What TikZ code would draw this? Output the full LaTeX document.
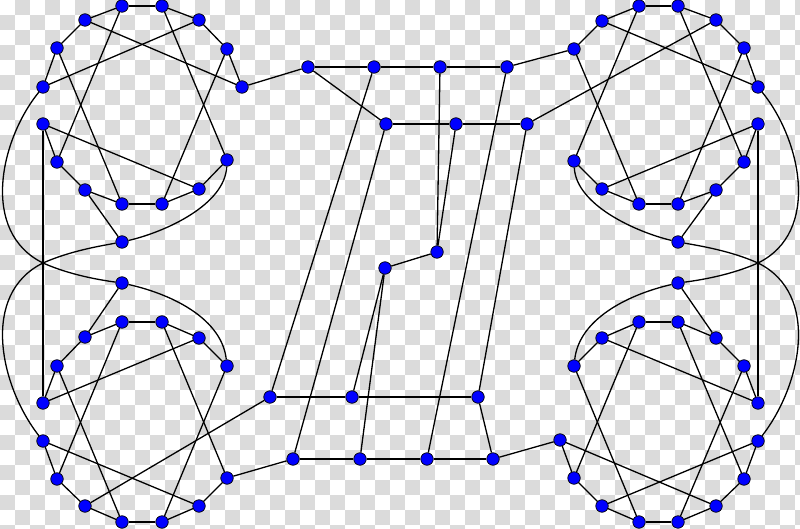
\documentclass[tikz,border=0pt]{standalone}
\begin{document}
\begin{tikzpicture}[x=1pt,y=-1pt,
  vtx/.style={circle,fill={rgb,255:red,0;green,0;blue,255},draw=black,line width=0.7pt,inner sep=0pt,minimum size=12.5pt},
  edge/.style={line width=1.3pt,black},
  checker/.style={fill={rgb,255:red,219;green,219;blue,219}}]
\useasboundingbox (0,0) rectangle (800,529);
\begin{scope}
\clip (0,0) rectangle (800,529);
\fill[white] (0,0) rectangle (800,529);
\foreach \c in {0,...,53}{\foreach \r in {0,...,35}{\pgfmathtruncatemacro\s{\c+\r}\ifodd\s\fill[checker] (\c*15,\r*15) rectangle ++(15,15);\fi}}
\end{scope}
% top-left
\node[vtx] (A1) at (122,6) {}; \node[vtx] (A2) at (162,6) {}; \node[vtx] (A3) at (199,20) {};
\node[vtx] (A4) at (227,49) {}; \node[vtx] (A5) at (242,87) {}; \node[vtx] (A6) at (85,20) {};
\node[vtx] (A7) at (57,48) {}; \node[vtx] (A8) at (43,87) {}; \node[vtx] (A9) at (43,124) {};
\node[vtx] (A10) at (57,162) {}; \node[vtx] (A11) at (85,190) {}; \node[vtx] (A12) at (122,204) {};
\node[vtx] (A13) at (162,204) {}; \node[vtx] (A14) at (199,189) {}; \node[vtx] (A15) at (227,160) {};
\node[vtx] (A16) at (122,242) {};
% top-right
\node[vtx] (C1) at (639,6) {}; \node[vtx] (C2) at (678,6) {}; \node[vtx] (C3) at (716,20) {};
\node[vtx] (C4) at (744,48) {}; \node[vtx] (C5) at (758,87) {}; \node[vtx] (C6) at (602,21) {};
\node[vtx] (C7) at (574,49) {}; \node[vtx] (C8) at (758,124) {}; \node[vtx] (C9) at (744,162) {};
\node[vtx] (C10) at (716,190) {}; \node[vtx] (C11) at (678,204) {}; \node[vtx] (C12) at (639,204) {};
\node[vtx] (C13) at (602,189) {}; \node[vtx] (C14) at (574,161) {}; \node[vtx] (C15) at (678,242) {};
% bottom-left
\node[vtx] (B1) at (122,283) {}; \node[vtx] (B2) at (122,322) {}; \node[vtx] (B3) at (162,322) {};
\node[vtx] (B4) at (199,338) {}; \node[vtx] (B5) at (227,366) {}; \node[vtx] (B6) at (85,337) {};
\node[vtx] (B7) at (57,366) {}; \node[vtx] (B8) at (43,403) {}; \node[vtx] (B9) at (43,441) {};
\node[vtx] (B10) at (57,479) {}; \node[vtx] (B11) at (85,506) {}; \node[vtx] (B12) at (122,522) {};
\node[vtx] (B13) at (162,522) {}; \node[vtx] (B14) at (199,506) {}; \node[vtx] (B15) at (227,478) {};
% bottom-right
\node[vtx] (D1) at (678,283) {}; \node[vtx] (D2) at (639,322) {}; \node[vtx] (D3) at (678,322) {};
\node[vtx] (D4) at (716,338) {}; \node[vtx] (D5) at (744,366) {}; \node[vtx] (D6) at (602,338) {};
\node[vtx] (D7) at (574,366) {}; \node[vtx] (D8) at (758,403) {}; \node[vtx] (D9) at (758,441) {};
\node[vtx] (D10) at (744,479) {}; \node[vtx] (D11) at (716,506) {}; \node[vtx] (D12) at (678,522) {};
\node[vtx] (D13) at (639,522) {}; \node[vtx] (D14) at (602,506) {}; \node[vtx] (D15) at (574,478) {};
\node[vtx] (D16) at (560,440) {};
% middle
\node[vtx] (M1) at (308,67) {}; \node[vtx] (M2) at (374,67) {}; \node[vtx] (M3) at (440,67) {};
\node[vtx] (M4) at (507,67) {}; \node[vtx] (M5) at (386,124) {}; \node[vtx] (M6) at (456,124) {};
\node[vtx] (M7) at (527,124) {}; \node[vtx] (M8) at (437,252) {}; \node[vtx] (M9) at (385,268) {};
\node[vtx] (N1) at (270,397) {}; \node[vtx] (N2) at (352,397) {}; \node[vtx] (N3) at (478,397) {};
\node[vtx] (P1) at (293,459) {}; \node[vtx] (P2) at (360,459) {}; \node[vtx] (P3) at (427,459) {};
\node[vtx] (P4) at (493,459) {};
\coordinate (XL) at (43,263);
\coordinate (XR) at (758,263);
% straight edges
\foreach \a/\b in {A1/A2,A2/A3,A3/A4,A4/A5,A6/A1,A7/A6,A8/A7,A1/A10,A2/A15,A6/A5,A3/A8,A7/A12,A4/A13,
  A9/A10,A9/A14,A10/A11,A11/A12,A12/A13,A13/A14,A14/A15,A11/A16,A5/M1,A9/B8,
  C1/C2,C2/C3,C3/C4,C4/C5,C6/C1,C7/C6,C6/C5,C3/M7,C1/C14,C7/C12,C2/C9,C4/C11,C8/C13,C8/C9,
  C14/C13,C13/C12,C12/C11,C11/C10,C10/C9,C10/C15,C7/M4,C8/D8,
  B1/B6,B6/B2,B2/B3,B3/B4,B4/B5,B6/B7,B7/B8,B8/B4,B7/B12,B2/B10,B3/B15,B5/B13,B9/B10,B9/B14,
  B10/B11,B11/B12,B12/B13,B13/B14,B14/B15,B11/N1,B15/P1,
  D1/D4,D6/D2,D2/D3,D3/D4,D4/D5,D6/D7,D6/D8,D5/D8,D7/D13,D2/D15,D3/D10,D5/D12,D9/D10,D9/D14,
  D16/D15,D16/D11,D16/P4,D15/D14,D14/D13,D13/D12,D12/D11,D11/D10,
  M1/M2,M2/M3,M3/M4,M1/M5,M5/M6,M6/M7,M2/N1,M5/P1,M3/M8,M6/M8,M8/M9,M4/P3,M7/N3,M9/N2,M9/P2,
  N1/N2,N2/N3,N3/P4,P1/P2,P2/P3,P3/P4}
  {\draw[edge] (\a) -- (\b);}
% curved edges
\draw[edge] (A16) .. controls (165,232) and (225,205) .. (A15);
\draw[edge] (C15) .. controls (636,232) and (576,205) .. (C14);
\draw[edge] (B1) .. controls (175,295) and (222,320) .. (B5);
\draw[edge] (D1) .. controls (626,295) and (579,320) .. (D7);
\draw[edge] (A8) .. controls (0,140) and (-20,232) .. (XL) .. controls (70,275) and (100,280) .. (B1);
\draw[edge] (A16) .. controls (100,246) and (70,251) .. (XL) .. controls (-20,294) and (0,386) .. (B9);
\draw[edge] (C5) .. controls (801,140) and (821,232) .. (XR) .. controls (731,275) and (701,280) .. (D1);
\draw[edge] (C15) .. controls (701,246) and (731,251) .. (XR) .. controls (821,294) and (801,386) .. (D9);
\end{tikzpicture}
\end{document}
